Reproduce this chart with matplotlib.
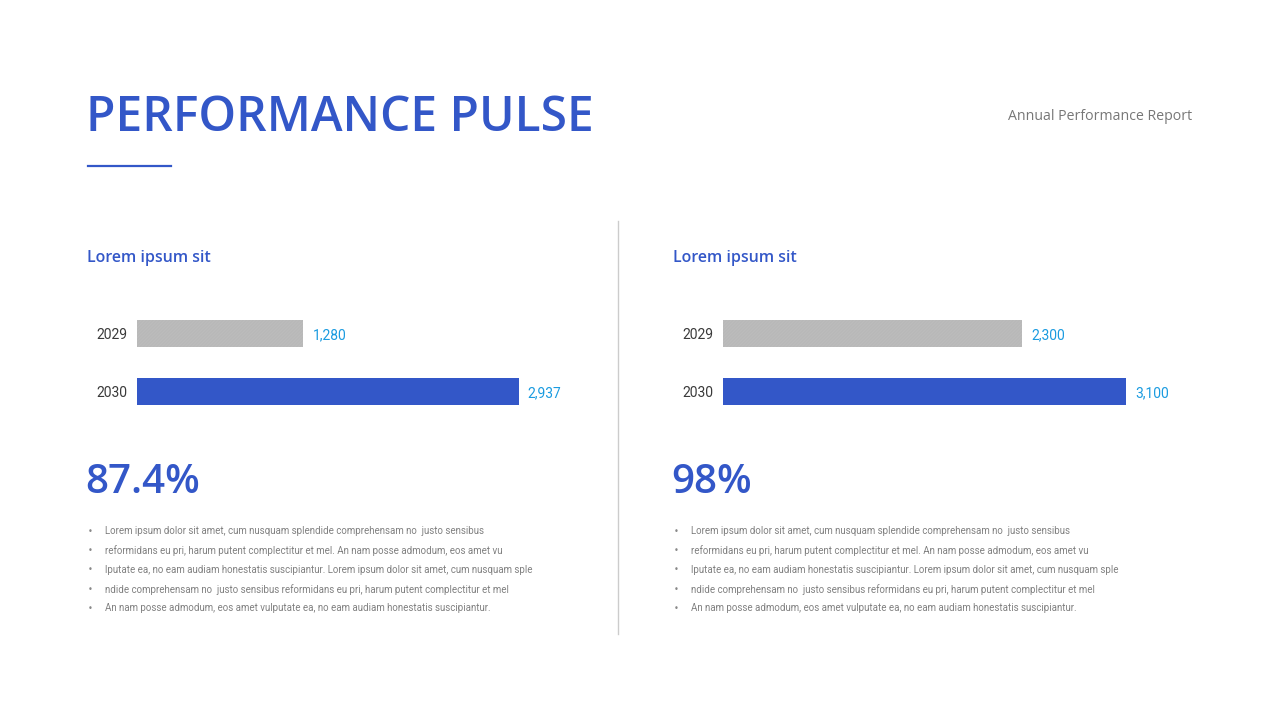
import matplotlib
matplotlib.use("Agg")
import matplotlib.pyplot as plt

# ---- data ----
years = ["2029", "2030"]
left_values = [1280, 2937]
right_values = [2300, 3100]
panel_titles = ["Lorem ipsum sit", "Lorem ipsum sit"]
panel_pcts = ["87.4%", "98%"]
bullets = [
    "Lorem ipsum dolor sit amet, cum nusquam splendide comprehensam no  justo sensibus",
    "reformidans eu pri, harum putent complectitur et mel. An nam posse admodum, eos amet vu",
    "lputate ea, no eam audiam honestatis suscipiantur. Lorem ipsum dolor sit amet, cum nusquam sple",
    "ndide comprehensam no  justo sensibus reformidans eu pri, harum putent complectitur et mel",
    "An nam posse admodum, eos amet vulputate ea, no eam audiam honestatis suscipiantur.",
]
title = "PERFORMANCE PULSE"
subtitle = "Annual Performance Report"

BLUE = "#3357C8"
GRAY_BAR = "#bdbdbd"
VAL_COLOR = "#1a9be0"
W, H = 1280, 720

fig = plt.figure(figsize=(12.8, 7.2), dpi=100)
fig.patch.set_facecolor("white")

def fx(px):
    return px / W

def fy(py):
    return 1 - py / H

TITLE_FONT = ["Open Sans", "DejaVu Sans"]

fig.text(fx(86), fy(118.5), title, color=BLUE, fontsize=34.5, fontweight="semibold",
         family=TITLE_FONT, va="center", ha="left")
fig.add_artist(plt.Line2D([fx(88), fx(171)], [fy(165.5), fy(165.5)], color=BLUE, lw=1.6))
fig.text(fx(1192), fy(116), subtitle, color="#777777", fontsize=10.2,
         family=TITLE_FONT, va="center", ha="right")

# divider
fig.add_artist(plt.Line2D([fx(617.5), fx(617.5)], [fy(221), fy(634)], color="#cccccc", lw=1))

offsets = [0, 586]
values_list = [left_values, right_values]
xmax = 3500
bar_px_per_unit = 0.13
for off, vals, ptitle, pct in zip(offsets, values_list, panel_titles, panel_pcts):
    fig.text(fx(87 + off), fy(258), ptitle, color=BLUE, fontsize=11.5, fontweight="semibold",
             family=TITLE_FONT, va="center", ha="left")
    # bar axes
    ax_left = 137 + off
    ax_w = xmax * bar_px_per_unit
    top_px, bot_px = 304.5, 420.5
    ax = fig.add_axes([fx(ax_left), fy(bot_px), ax_w / W, (bot_px - top_px) / H])
    ypos = list(range(len(years)))
    colors = [GRAY_BAR, BLUE]
    bars = ax.barh(ypos, vals, height=0.466, color=colors, edgecolor="none")
    bars[0].set_hatch("//////////")
    bars[0].set_edgecolor("#b8b8b8")
    bars[0].set_linewidth(0)
    ax.set_xlim(0, xmax)
    ax.set_ylim(1.5, -0.5)
    ax.set_yticks(ypos)
    ax.set_yticklabels(years, fontsize=10, color="#3a3a3a",
                       family=["Roboto", "DejaVu Sans"])
    ax.tick_params(axis="y", length=0, pad=7)
    ax.set_xticks([])
    for s in ax.spines.values():
        s.set_visible(False)
    ax.patch.set_alpha(0)
    for yi, v in zip(ypos, vals):
        ax.annotate(f"{v:,}", (v, yi), xytext=(6.5, -1.5), textcoords="offset points",
                    va="center", ha="left", color=VAL_COLOR, fontsize=10,
                    family=["Roboto", "DejaVu Sans"])
    # big percent
    fig.text(fx(85 + off), fy(483), pct, color=BLUE, fontsize=29, fontweight="semibold",
             family=TITLE_FONT, va="center", ha="left")
    # bullets
    for i, b in enumerate(bullets):
        yy = 531.5 + i * 19.2
        fig.text(fx(88 + off), fy(yy), "•", color="#888888", fontsize=6,
                 va="center", ha="left")
        fig.text(fx(105 + off), fy(yy), b, color="#808080", fontsize=7.0,
                 family=["Roboto", "DejaVu Sans"],
                 va="center", ha="left")

fig.savefig("out.png", dpi=100, facecolor="white")
